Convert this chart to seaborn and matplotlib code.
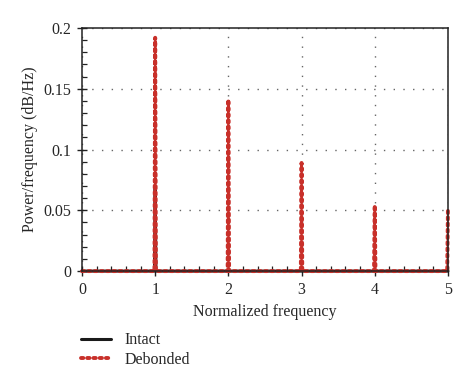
import matplotlib.pyplot as plt
import matplotlib.ticker as mtick
import seaborn as sns

sns.set_theme(style="white")
plt.rcParams["font.family"] = ["Liberation Serif", "DejaVu Serif"]

# spectrum samples: flat floor with narrow peaks at the harmonics
freq = [0.0, 0.99, 1.0, 1.01, 1.99, 2.0, 2.01, 2.99, 3.0, 3.01, 3.99, 4.0, 4.01, 4.99, 5.0]
intact = [0.0, 0.0, 0.069, 0.0, 0.0, 0.0, 0.0, 0.0, 0.0, 0.0, 0.0, 0.0, 0.0, 0.0, 0.0]
debonded = [0.0, 0.0, 0.192, 0.0, 0.0, 0.141, 0.0, 0.0, 0.089, 0.0, 0.0, 0.054, 0.0, 0.0, 0.050]

x_ticks = [0, 1, 2, 3, 4, 5]
y_ticks = [0, 0.05, 0.1, 0.15, 0.2]
y_labels = ["0", "0.05", "0.1", "0.15", "0.2"]

fig = plt.figure(figsize=(4.74, 3.84), dpi=100)
ax = fig.add_axes([0.173, 0.294, 0.772, 0.633])

sns.lineplot(x=freq, y=intact, ax=ax, color="#1a1a1a", lw=2.2, sort=False,
             estimator=None, label="Intact", clip_on=False)
sns.lineplot(x=freq, y=debonded, ax=ax, color="#c8302a", lw=2.8, sort=False,
             estimator=None, label="Debonded", clip_on=False,
             linestyle=(0, (0.6, 1.0)), dash_capstyle="round")

ax.set_xlim(0, 5)
ax.set_ylim(0, 0.2)
ax.set_xticks(x_ticks)
ax.set_yticks(y_ticks)
ax.set_yticklabels(y_labels)
ax.xaxis.set_minor_locator(mtick.MultipleLocator(0.2))
ax.yaxis.set_minor_locator(mtick.MultipleLocator(0.01))
ax.tick_params(which="major", direction="inout", length=7, width=1, color="#222222",
               labelsize=11.5, bottom=True, left=True, pad=4)
ax.tick_params(which="minor", direction="in", length=3.5, width=0.9, color="#222222",
               bottom=True, left=True)
ax.grid(True, which="major", color="#666666", linestyle=(0, (1, 6)), lw=1.0)
for side in ax.spines.values():
    side.set_color("#222222")
    side.set_linewidth(1.1)

ax.set_xlabel("Normalized frequency", fontsize=11.5, labelpad=5)
ax.set_ylabel("Power/frequency (dB/Hz)", fontsize=11.5, labelpad=4)

ax.legend(loc="upper left", bbox_to_anchor=(-0.02, -0.225), frameon=False, fontsize=11.5,
          handlelength=1.9, handletextpad=0.8, labelspacing=0.22, borderaxespad=0)

fig.savefig("out.png", dpi=100)
